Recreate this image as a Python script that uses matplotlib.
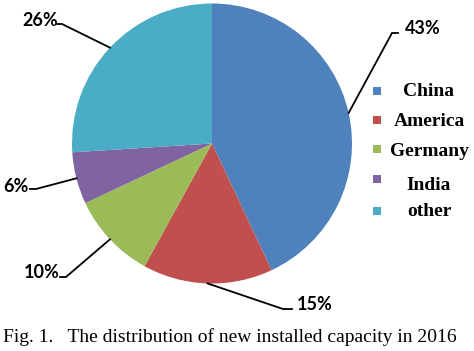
import numpy as np
import matplotlib.pyplot as plt

# data
countries = ['China', 'America', 'Germany', 'India', 'other']
shares = [43, 15, 10, 6, 26]
colors = ['#4F81BD', '#C0504D', '#9BBB59', '#8064A2', '#4BACC6']
caption = 'Fig. 1.   The distribution of new installed capacity in 2016'

W, H = 474, 351
fig = plt.figure(figsize=(W / 100, H / 100), dpi=100)
ax = fig.add_axes([0, 0, 1, 1])

cx, cy, r = 212, H - 143.5, 140
wedges, _ = ax.pie(shares, colors=colors, startangle=90, counterclock=False,
                   center=(cx, cy), radius=r, frame=True,
                   wedgeprops=dict(linewidth=0))
ax.set_xlim(0, W)
ax.set_ylim(0, H)
ax.set_aspect('equal')
ax.axis('off')

# label centre, leader elbow and end of the short horizontal tick (pixels from top-left)
label_pos = [(423, 29), (315, 305), (42, 273), (16, 187), (40, 21)]
elbow_pos = [(392, 33), (283, 309), (66, 277), (36, 189), (62, 24)]
tick_end = [398, 292, 60, 30, 57]

for w, s, (lx, ly), (ex, ey), te in zip(wedges, shares, label_pos, elbow_pos, tick_end):
    mid = np.deg2rad((w.theta1 + w.theta2) / 2)
    px, py = cx + r * np.cos(mid), cy + r * np.sin(mid)
    ax.plot([px, ex, te], [py, H - ey, H - ey], color='black', lw=1.3,
            solid_joinstyle='miter')
    ax.text(lx, H - ly, f'{s}%', ha='center', va='center', fontsize=13,
            fontweight='bold', family='Lato')

# legend, drawn by hand
leg_marker_y = [91, 120, 149, 179, 211]
leg_text_y = [92, 122, 151, 185, 212]
for name, c, my, ty in zip(countries, colors, leg_marker_y, leg_text_y):
    ax.scatter([377], [H - my], marker='s', s=40, color=c, linewidths=0)
    ax.text(429, H - ty, name, ha='center', va='center', fontsize=14,
            fontweight='bold', family='Liberation Serif')

fig.text(3 / W, 1 - 337 / H, caption, ha='left', va='center', fontsize=14,
         family='Liberation Serif')

fig.savefig('out.png', dpi=100)
